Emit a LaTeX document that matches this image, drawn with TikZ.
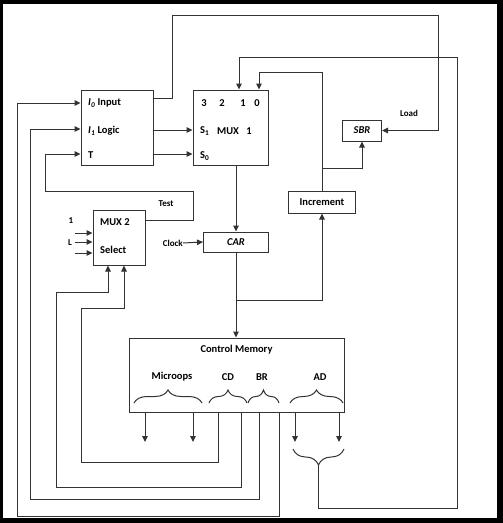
\documentclass[tikz,border=0pt]{standalone}
\usepackage{fontspec}
\setmainfont{Carlito}
\usetikzlibrary{arrows.meta,decorations.pathreplacing,calc}
\begin{document}
\begin{tikzpicture}[x=1pt,y=-1pt,
 wire/.style={draw=black!80,line width=1pt},
 arr/.style={wire,-{Triangle[length=6pt,width=5.5pt]}},
 blk/.style={draw=black!80,line width=1pt,rectangle,inner sep=0pt,fill=white},
 lab/.style={font=\fontsize{10.5}{12}\selectfont\bfseries,inner sep=0pt},
 sm/.style={font=\fontsize{9}{10}\selectfont\bfseries,inner sep=0pt},
 brc/.style={wire,decorate,decoration={brace,amplitude=13pt}}]
\fill[black] (0,0) rectangle (503,523);
\fill[white] (3,4) rectangle (497,518);
\useasboundingbox (0,0) rectangle (503,523);
% blocks
\node[blk,minimum width=72pt,minimum height=75pt] (inp) at (117,127.5) {};
\node[blk,minimum width=75pt,minimum height=75pt] (mux1) at (230.5,127.5) {};
\node[blk,minimum width=52pt,minimum height=55pt] (mux2) at (119,237.5) {};
\node[blk,minimum width=65pt,minimum height=20pt] (car) at (236,242) {};
\node[blk,minimum width=67pt,minimum height=22pt] (inc) at (322,202) {};
\node[blk,minimum width=39pt,minimum height=21pt] (sbr) at (362,130.5) {};
\node[blk,minimum width=215pt,minimum height=74pt] (cm) at (236.5,375) {};
% texts
\node[lab,anchor=west] (ti0) at (88,103) {\textit{I\textsubscript{0}} Input};
\node[lab,anchor=west] (ti1) at (88,131) {\textit{I\textsubscript{1}} Logic};
\node[lab,anchor=west] (tt) at (88,155) {T};
\node[lab] (m3) at (204,103) {3};
\node[lab] (m2) at (222,103) {2};
\node[lab] (m1) at (243,103) {1};
\node[lab] (m0) at (257,103) {0};
\node[lab,anchor=west] (ms1) at (200,131) {S\textsubscript{1}};
\node[lab] (mmux) at (228,131) {MUX};
\node[lab] (mone) at (249,131) {1};
\node[lab,anchor=west] (ms0) at (200,156) {S\textsubscript{0}};
\node[lab,anchor=west] (tmux2) at (100,222) {MUX 2};
\node[lab,anchor=west] (tsel) at (100,250) {Select};
\node[lab] (tinc) at (inc) {Increment};
\node[lab] (tcar) at (car) {\itshape CAR};
\node[lab] (tsbr) at (sbr) {\itshape SBR};
\node[lab] (tcm) at (236.5,350) {Control Memory};
\node[lab] (tmic) at (172,377) {Microops};
\node[lab] (tcd) at (228,377) {CD};
\node[lab] (tbr) at (262,377) {BR};
\node[lab] (tad) at (320,377) {AD};
\node[sm] (tload) at (409,113) {Load};
\node[sm] (ttest) at (166,204) {Test};
\node[sm,anchor=east] (tclk) at (183,243) {Clock};
\node[sm] (tone) at (71,221) {1};
\node[sm] (tl) at (70,243) {L};
% braces
\draw[brc] (134,403) -- (202,403);
\draw[brc] (209,403) -- (247,403);
\draw[brc] (248,403) -- (279,403);
\draw[brc] (290,403) -- (343,403);
\draw[wire,decorate,decoration={brace,amplitude=16pt}] (344,449) -- (293,449);
\coordinate (adtip) at (318.5,465);
% free ends
\coordinate (o1) at (145,442);
\coordinate (o2) at (193,442);
\coordinate (o3) at (295,442);
\coordinate (o4) at (339,442);
\coordinate (s1) at (75,233);
\coordinate (s2) at (75,242);
\coordinate (s3) at (75,253);
\coordinate (br1) at (236,300);
\coordinate (br2) at (322,168);
% connectors
\draw[arr] (inp.east |- 0,98) -- (172,98) -- (172,15) -- (438,15) -- (438,130.5) -- (sbr.east);
\draw[arr] (inp.east |- 0,130) -- (mux1.west |- 0,130);
\draw[arr] (inp.east |- 0,154) -- (mux1.west |- 0,154);
\draw[arr] (mux1.south -| car.north) -- (car.north);
\draw[arr] (car.south) -- (car.south |- cm.north);
\draw[arr] (br1) -- (322,300) -- (inc.south);
\draw[arr] (inc.north) -- (322,72) -- (259,72) -- (mux1.north -| 259,0);
\draw[arr] (br2) -- (362,168) -- (sbr.south);
\draw[arr] (adtip) -- (318.5,508) -- (457,508) -- (457,57) -- (239,57) -- (mux1.north -| 239,0);
\draw[arr] (mux2.east |- 0,220) -- (193,220) -- (193,191) -- (45,191) -- (45,154) -- (inp.west |- 0,154);
\draw[arr] (cm.south -| 218,0) -- (218,462) -- (81,462) -- (81,308) -- (124,308) -- (mux2.south -| 124,0);
\draw[arr] (cm.south -| 241,0) -- (241,487) -- (56,487) -- (56,292) -- (108,292) -- (mux2.south -| 108,0);
\draw[arr] (cm.south -| 259,0) -- (259,499) -- (30,499) -- (30,129) -- (inp.west |- 0,129);
\draw[arr] (cm.south -| 279,0) -- (279,516.5) -- (17.5,516.5) -- (17.5,103) -- (inp.west |- 0,103);
\draw[arr] (cm.south -| o1) -- (o1);
\draw[arr] (cm.south -| o2) -- (o2);
\draw[arr] (cm.south -| o3) -- (o3);
\draw[arr] (cm.south -| o4) -- (o4);
\draw[arr] (s1) -- (mux2.west |- s1);
\draw[arr] (s2) -- (mux2.west |- s2);
\draw[arr] (s3) -- (mux2.west |- s3);
\draw[arr] (tclk.east) -- (car.west);
\end{tikzpicture}
\end{document}
